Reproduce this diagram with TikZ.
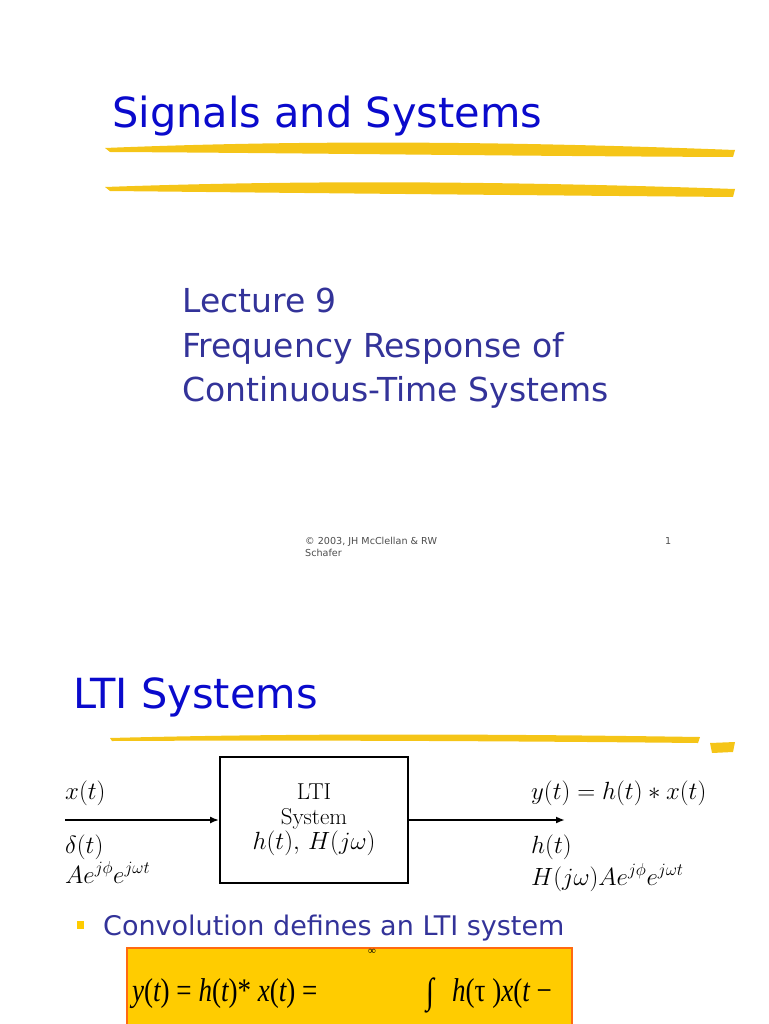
\documentclass[tikz,border=0pt]{standalone}
\usepackage{fontspec}
\setmainfont{DejaVu Sans}
\newfontfamily\tnr{Liberation Serif}
\usetikzlibrary{arrows.meta}
\definecolor{ttl}{HTML}{0A0ACC}
\definecolor{sub}{HTML}{333399}
\definecolor{brush}{HTML}{F5C518}
\definecolor{gold}{HTML}{FFCC00}
\definecolor{org}{HTML}{FF6A10}
\tikzset{
  title/.style={anchor=base west,text=ttl,font=\fontsize{41.5}{44}\selectfont,inner sep=0},
  sub/.style={anchor=base west,text=sub,font=\fontsize{33}{36}\selectfont,inner sep=0},
  lab/.style={anchor=base west,inner sep=0,font=\fontsize{24}{26}\selectfont},
  foot/.style={anchor=base west,inner sep=0,font=\fontsize{9.6}{11}\selectfont,text=black!70},
  fml/.style={anchor=base west,inner sep=0,xscale=0.82,transform shape,font=\tnr\itshape\fontsize{33}{35}\selectfont}
}
\begin{document}
\begin{tikzpicture}[x=1pt,y=-1pt]
\useasboundingbox (0,0) rectangle (768,1024);
% brush strokes
\fill[brush] (105,148) .. controls (300,140) and (500,141) .. (735,150) -- (733,157) .. controls (500,156) and (300,153) .. (110,152) -- cycle;
\fill[brush] (105,187) .. controls (300,180) and (500,181) .. (735,189) -- (733,197) .. controls (500,195) and (300,193) .. (110,191) -- cycle;
\fill[brush] (110,738) .. controls (300,733) and (500,734) .. (700,737) -- (698,743) .. controls (500,741) and (300,740) .. (112,741) -- cycle;
\fill[brush] (710,743) -- (735,742) -- (733,752) -- (712,753) -- cycle;
% slide 1
\node[title] (t1) at (112,128) {Signals and Systems};
\node[sub] (l1) at (182,312) {Lecture 9};
\node[sub] (l2) at (182,357) {Frequency Response of};
\node[sub] (l3) at (182,401) {Continuous-Time Systems};
\node[foot] (f1) at (305,544) {© 2003, JH McClellan \& RW};
\node[foot] (f2) at (305,556) {Schafer};
\node[foot] (pg) at (665,544) {1};
% slide 2
\node[title] (t2) at (73,708) {LTI Systems};
\node[draw,line width=1.8pt,minimum width=188pt,minimum height=126pt,align=center,font=\fontsize{23}{25}\selectfont] (box) at (314,820)
  {\fontspec{Latin Modern Roman}LTI\\\fontspec{Latin Modern Roman}System\\$h(t),\,H(j\omega)$};
\coordinate (in) at (65,820);
\coordinate (out) at (565,820);
\draw[line width=2pt,-{Latex[length=9pt,width=7pt]}] (in) -- (box.west);
\draw[line width=2pt,-{Latex[length=9pt,width=7pt]}] (box.east) -- (out);
\node[lab] (x) at (65,799) {$x(t)$};
\node[lab] (d) at (65,853) {$\delta(t)$};
\node[lab] (a) at (65,883) {$Ae^{j\phi}e^{j\omega t}$};
\node[lab] (y) at (531,799) {$y(t)=h(t)*x(t)$};
\node[lab] (h) at (531,853) {$h(t)$};
\node[lab] (hh) at (531,885) {$H(j\omega)Ae^{j\phi}e^{j\omega t}$};
\fill[gold] (77,921) rectangle (84,929);
\node[anchor=base west,inner sep=0,text=sub,font=\fontsize{27}{29}\selectfont] (bl) at (103,935) {Convolution defines an LTI system};
\filldraw[fill=gold,draw=org,line width=1.5pt] (127,948) rectangle (572,1030);
\begin{scope}
\clip (127,948) rectangle (572,1030);
\node[fml] (eq) at (132,1001) {y{\upshape(}t{\upshape)} {\upshape=} h{\upshape(}t{\upshape)*} x{\upshape(}t{\upshape)} {\upshape=}};
\node[anchor=base,inner sep=0,font=\tnr\fontsize{11}{12}\selectfont] (inf) at (372,954) {∞};
\node[anchor=base west,inner sep=0,xscale=0.8,transform shape,font=\tnr\fontsize{36}{38}\selectfont] (int) at (426,1003) {∫};
\node[fml] (rest) at (452,1001) {h{\upshape(τ )}x{\upshape(}t {\upshape−}};
\end{scope}
\end{tikzpicture}
\end{document}
